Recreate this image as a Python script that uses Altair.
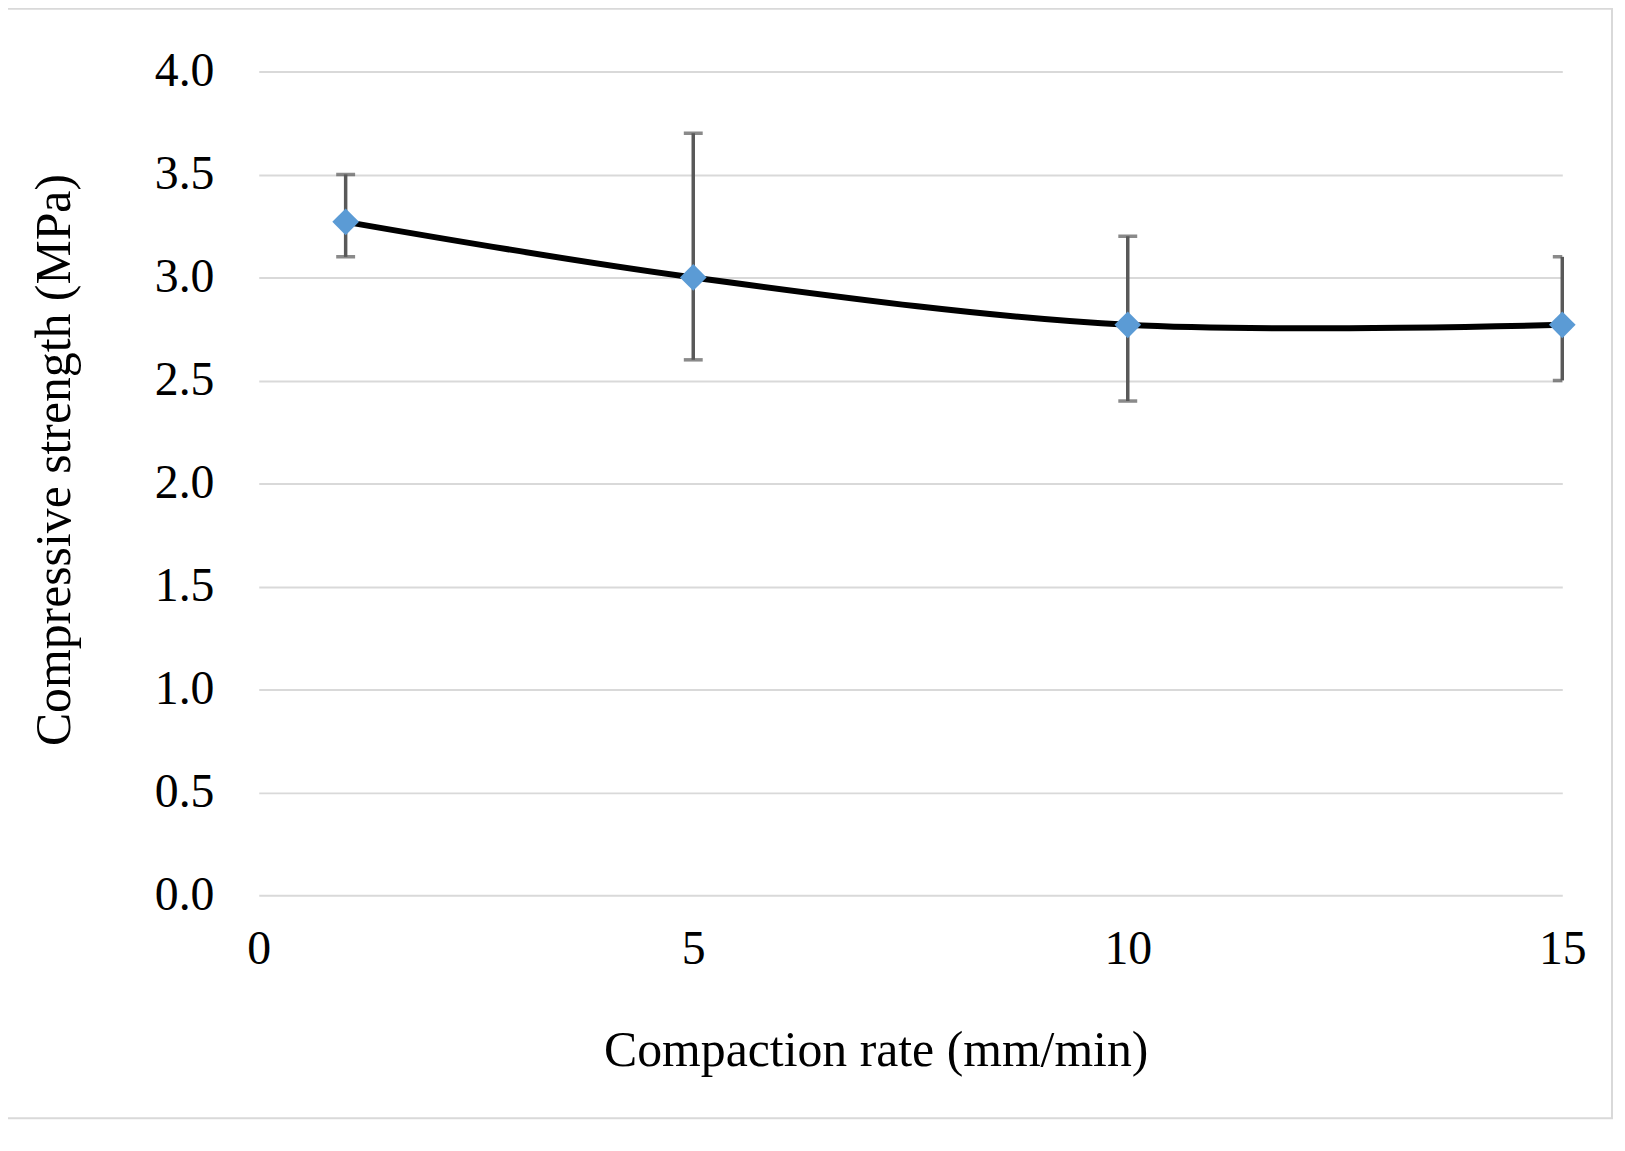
import altair as alt
import pandas as pd

# compaction rate (mm/min) and compressive strength (MPa)
rate = [1, 5, 10, 15]
strength = [3.27, 3.0, 2.77, 2.77]
err_low = [3.1, 2.6, 2.4, 2.5]
err_high = [3.5, 3.7, 3.2, 3.1]

df = pd.DataFrame({'rate': rate, 'strength': strength, 'low': err_low, 'high': err_high})

FONT = 'Liberation Serif'

x = alt.X('rate:Q', scale=alt.Scale(domain=[0, 15], nice=False),
          axis=alt.Axis(values=[0, 5, 10, 15], format='d', title='Compaction rate (mm/min)',
                        grid=False, domain=False, ticks=False, tickSize=0,
                        labelPadding=30, labelFlush=False,
                        titleX=620, titleY=171, titleAlign='center',
                        titleBaseline='alphabetic'))
y = alt.Y('strength:Q', scale=alt.Scale(domain=[0, 4], nice=False),
          axis=alt.Axis(values=[0, 0.5, 1, 1.5, 2, 2.5, 3, 3.5, 4], format='.1f',
                        title='Compressive strength (MPa)',
                        grid=True, gridColor='#d9d9d9', gridWidth=2,
                        domain=False, ticks=False, tickSize=0, labelPadding=45,
                        titleX=-205, titleY=390, titleAlign='center',
                        titleBaseline='middle', titleAngle=-90))

base = alt.Chart(df)

frame = alt.Chart(pd.DataFrame({'k': [0]})).mark_rect(
    fill=None, stroke='#d9d9d9', strokeWidth=2
).encode(x=alt.value(-253), x2=alt.value(1360), y=alt.value(-63), y2=alt.value(1052))

line = base.mark_line(interpolate='catmull-rom', color='black', strokeWidth=6).encode(x=x, y=y)

bars = base.mark_rule(color='#595959', strokeWidth=3.5).encode(
    x='rate:Q', y='low:Q', y2='high:Q')
cap_lo = base.mark_tick(color='#595959', orient='horizontal', size=19,
                        thickness=3.5, clip=True).encode(x='rate:Q', y='low:Q')
cap_hi = base.mark_tick(color='#595959', orient='horizontal', size=19,
                        thickness=3.5, clip=True).encode(x='rate:Q', y='high:Q')

points = base.mark_point(shape='diamond', filled=True, size=720, opacity=1,
                         color='#5b9bd5').encode(x='rate:Q', y='strength:Q')

chart = alt.layer(frame, line, bars, cap_lo, cap_hi, points).properties(
    width=1310, height=828,
    background='white',
    autosize=alt.AutoSizeParams(type='none'),
    padding={'left': 252, 'top': 61, 'right': 55, 'bottom': 230},
).configure_view(stroke=None).configure_axis(
    labelFont=FONT, titleFont=FONT, labelFontSize=48, titleFontSize=50,
    labelColor='black', titleColor='black', titleFontWeight='normal'
)

chart.save("out.html", embed_options={"renderer": "svg", "actions": False})
